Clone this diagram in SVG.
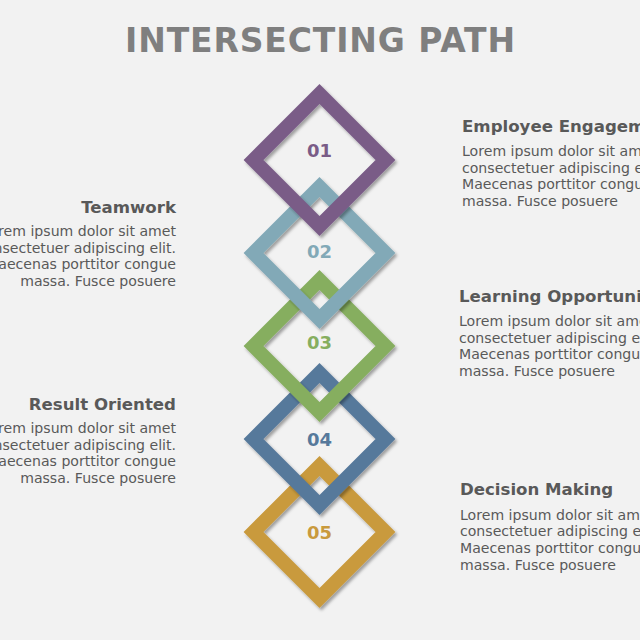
<svg xmlns="http://www.w3.org/2000/svg" width="640" height="640" viewBox="0 0 640 640">
<defs>
<filter id="sh" x="-20%" y="-20%" width="140%" height="140%">
<feDropShadow dx="2" dy="2.5" stdDeviation="1.6" flood-color="#000" flood-opacity="0.35"/>
</filter>
<style>
.d{fill:none;stroke-width:14;stroke-linejoin:miter;filter:url(#sh)}
.n{font-family:"DejaVu Sans",Verdana,sans-serif;font-weight:bold;font-size:18px;text-anchor:middle}
.h{font-family:"DejaVu Sans",Verdana,sans-serif;font-weight:bold;font-size:16.6px;fill:#595959}
.b{font-family:"DejaVu Sans",Verdana,sans-serif;font-size:14.1px;fill:#595959}
.r{text-anchor:end}
</style>
</defs>
<rect width="640" height="640" fill="#f2f2f2"/>
<text x="320" y="52" font-family="DejaVu Sans,Verdana,sans-serif" font-weight="bold" font-size="33" fill="#7f7f7f" text-anchor="middle" textLength="390" lengthAdjust="spacing">INTERSECTING PATH</text>

<g id="connectors"></g>

<g id="node05">
<path class="d" stroke="#c99a3d" d="M319.5 466 L385.5 532 L319.5 598 L253.5 532 Z"/>
<text class="n" fill="#c99a3d" x="319.5" y="539">05</text>
</g>
<g id="node04">
<path class="d" stroke="#56799b" d="M319.5 373 L385.5 439 L319.5 505 L253.5 439 Z"/>
<text class="n" fill="#56799b" x="319.5" y="446">04</text>
</g>
<g id="node03">
<path class="d" stroke="#86ae5f" d="M319.5 280 L385.5 346 L319.5 412 L253.5 346 Z"/>
<text class="n" fill="#86ae5f" x="319.5" y="349">03</text>
</g>
<g id="node02">
<path class="d" stroke="#82a9b7" d="M319.5 187 L385.5 253 L319.5 319 L253.5 253 Z"/>
<text class="n" fill="#82a9b7" x="319.5" y="258">02</text>
</g>
<g id="node01">
<path class="d" stroke="#7a5c87" d="M319.5 94 L385.5 160 L319.5 226 L253.5 160 Z"/>
<text class="n" fill="#7a5c87" x="319.5" y="157">01</text>
</g>

<g id="text-employee">
<text class="h" x="462" y="131.5">Employee Engagement</text>
<text class="b" x="462" y="156">Lorem ipsum dolor sit amet</text>
<text class="b" x="462" y="172.7">consectetuer adipiscing elit.</text>
<text class="b" x="462" y="189.3">Maecenas porttitor congue</text>
<text class="b" x="462" y="206">massa. Fusce posuere</text>
</g>
<g id="text-teamwork">
<text class="h r" x="176" y="213">Teamwork</text>
<text class="b r" x="176" y="236">Lorem ipsum dolor sit amet</text>
<text class="b r" x="176" y="252.7">consectetuer adipiscing elit.</text>
<text class="b r" x="176" y="269.3">Maecenas porttitor congue</text>
<text class="b r" x="176" y="286">massa. Fusce posuere</text>
</g>
<g id="text-learning">
<text class="h" x="459" y="302">Learning Opportunities</text>
<text class="b" x="459" y="326">Lorem ipsum dolor sit amet</text>
<text class="b" x="459" y="342.7">consectetuer adipiscing elit.</text>
<text class="b" x="459" y="359.3">Maecenas porttitor congue</text>
<text class="b" x="459" y="376">massa. Fusce posuere</text>
</g>
<g id="text-result">
<text class="h r" x="176" y="410">Result Oriented</text>
<text class="b r" x="176" y="433">Lorem ipsum dolor sit amet</text>
<text class="b r" x="176" y="449.7">consectetuer adipiscing elit.</text>
<text class="b r" x="176" y="466.3">Maecenas porttitor congue</text>
<text class="b r" x="176" y="483">massa. Fusce posuere</text>
</g>
<g id="text-decision">
<text class="h" x="460" y="495">Decision Making</text>
<text class="b" x="460" y="519.5">Lorem ipsum dolor sit amet</text>
<text class="b" x="460" y="536.2">consectetuer adipiscing elit.</text>
<text class="b" x="460" y="552.8">Maecenas porttitor congue</text>
<text class="b" x="460" y="569.5">massa. Fusce posuere</text>
</g>
</svg>
